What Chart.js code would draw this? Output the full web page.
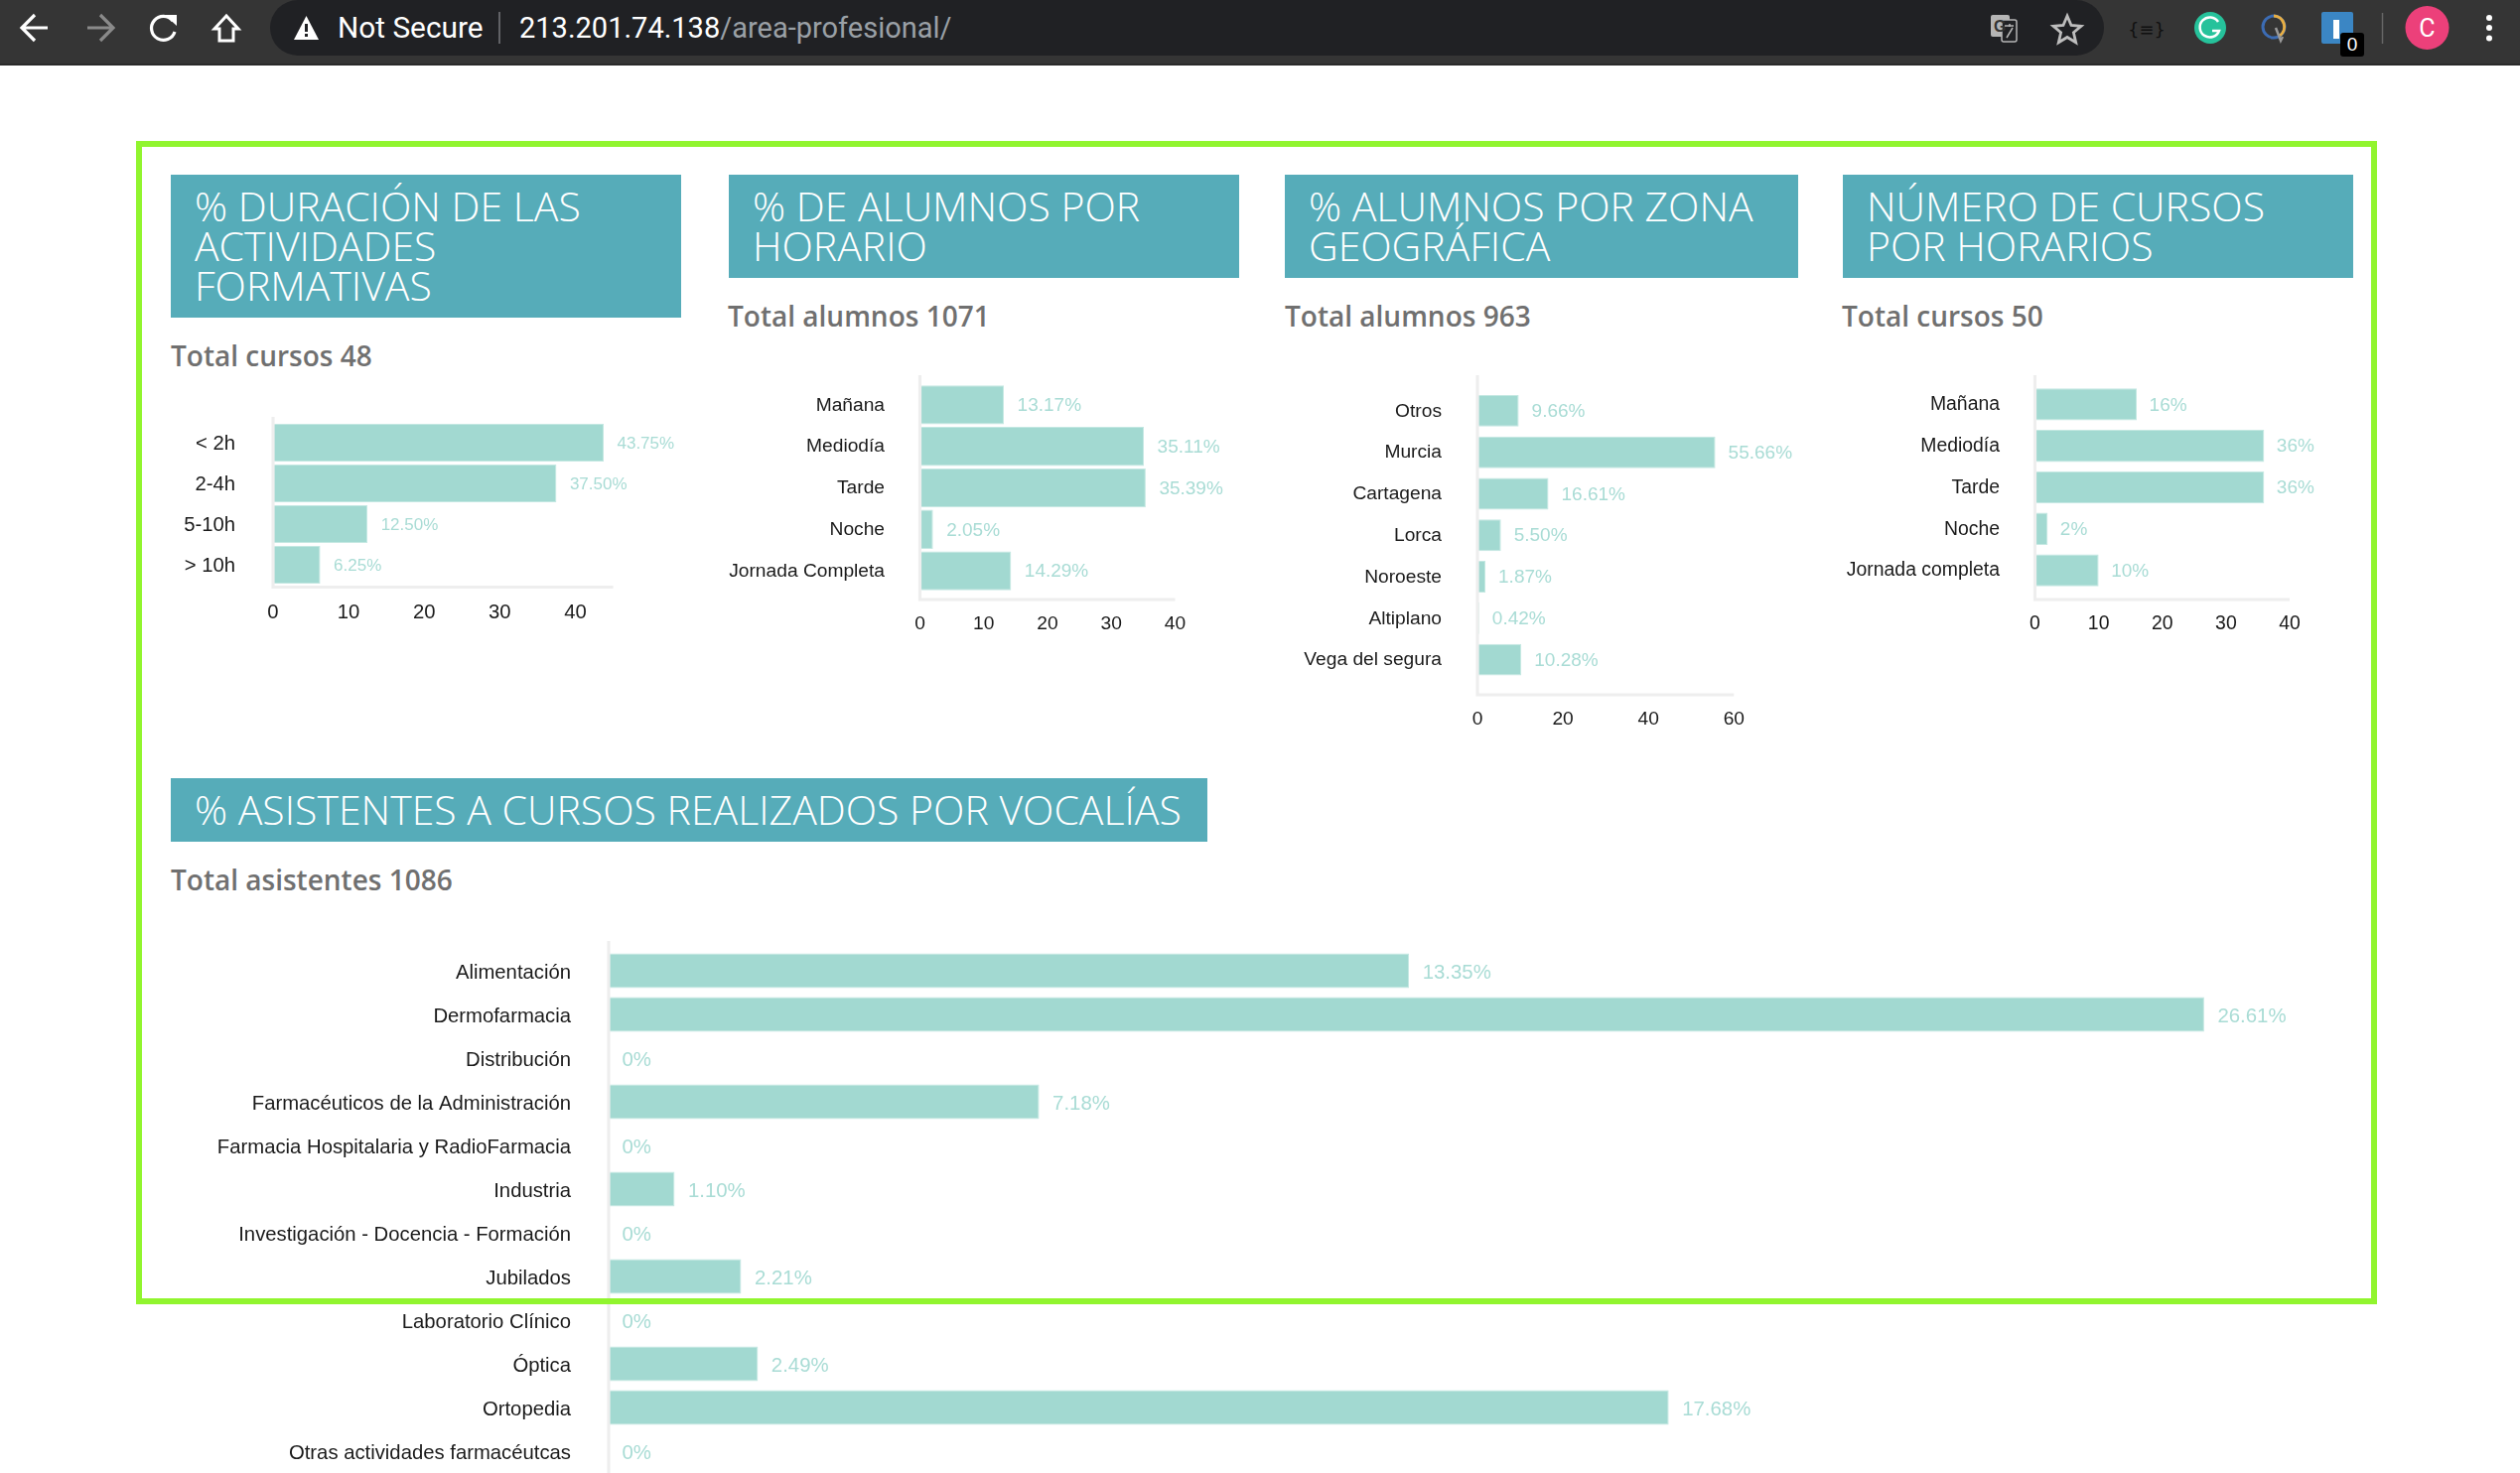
<!DOCTYPE html>
<html lang="es"><head><meta charset="utf-8">
<title>Área profesional</title>
<script src="https://cdn.jsdelivr.net/npm/chart.js@4/dist/chart.umd.min.js"></script>
<style>
html,body{margin:0;padding:0;width:2538px;height:1484px;overflow:hidden;background:#fff}
.abs{position:absolute}
#bar{left:0;top:0;width:2538px;height:64px;background:#353535;border-bottom:2px solid #2a2a2a}
#omni{left:272px;top:0;width:1847px;height:56px;background:#202124;border-radius:28px}
.url{font:29px Roboto,sans-serif;top:11px;line-height:34px;white-space:nowrap}
#frame{left:137px;top:142px;width:2245px;height:1160px;border:6px solid #91f52e;z-index:5;pointer-events:none}
.panel{background:#56acb9;color:#fff;font:300 41px/40px "Open Sans",sans-serif;box-sizing:border-box;padding:11px 10px 0 24px;top:176px}
.total{font:600 28px/36px "Open Sans",sans-serif;color:#707070;white-space:nowrap}
canvas{position:absolute;display:block}
</style></head><body>
<div class="abs" id="bar"></div><div class="abs" id="omni"></div>
<svg class="abs" style="left:0;top:0" width="2538" height="64" fill="none">
 <g stroke="#fff" stroke-width="3.2"><path d="M48 28H24M35 15 22 28l13 13"/></g>
 <g stroke="#8a8a8a" stroke-width="3.2"><path d="M88 28h24M101 15l13 13-13 13"/></g>
 <path d="M174 21a12 12 0 1 0 2 11" stroke="#fff" stroke-width="3.2"/><path d="M166 15h12v11z" fill="#fff"/>
 <path d="M228 16 216 29h5v12h14V29h5z" stroke="#fff" stroke-width="3"/>
 <path d="M308.500 16 296 40h25z" fill="#fff"/><path d="M307 24h3v8h-3zM307 34h3v3h-3z" fill="#202124"/>
 <path d="M503 12v32" stroke="#77797c" stroke-width="1.500"/>
 <rect x="2005" y="15" width="19" height="22" rx="2" fill="#b5b5b5"/><rect x="2016" y="20" width="15" height="22" rx="2" stroke="#b5b5b5" stroke-width="1.500" fill="#202124"/>
 <text x="2008" y="32" font-family="Liberation Sans" font-weight="700" font-size="16" fill="#333">G</text>
 <path d="M2019 26h9M2024 24v3M2021 38l6-10" stroke="#b5b5b5" stroke-width="1.500"/>
 <path d="M2082 16l4 9.500 10 .8-7.600 6.500 2.300 10-8.700-5.300-8.700 5.300 2.300-10-7.600-6.500 10-.8z" stroke="#bdbdbd" stroke-width="2.800"/>
 <text x="2162" y="36" text-anchor="middle" font-family="DejaVu Sans" font-size="18" fill="#111">{≡}</text>
 <circle cx="2226" cy="28" r="16" fill="#26c29b"/><path d="M2234 22a10 10 0 1 0 1 9h-7" stroke="#fff" stroke-width="2.500"/>
 <circle cx="2290" cy="27" r="11" stroke="#3c6cb4" stroke-width="3"/><path d="M2290 16a11 11 0 0 1 6 20" stroke="#e8ae43" stroke-width="3"/>
 <path d="M2292 28l5 13 2-4" stroke="#9a9a9a" stroke-width="2.500"/>
 <rect x="2338" y="12" width="32" height="32" rx="2" fill="#3b86c4"/><path d="M2350 20h6v19h-6z" fill="#fff"/>
 <rect x="2357" y="33" width="24" height="24" rx="3" fill="#000"/><text x="2369" y="51" text-anchor="middle" font-family="Liberation Sans" font-size="19" fill="#fff">0</text>
 <path d="M2399.500 13v31" stroke="#666" stroke-width="1.500"/>
 <circle cx="2444.500" cy="28" r="22" fill="#ec407a"/><text x="2444.500" y="37" text-anchor="middle" font-family="Roboto" font-size="25" fill="#fff">C</text>
 <circle cx="2507" cy="18" r="3" fill="#fff"/><circle cx="2507" cy="28" r="3" fill="#fff"/><circle cx="2507" cy="38.500" r="3" fill="#fff"/>
</svg>
<div class="abs url" style="left:340px;color:#fff;font-size:29.8px">Not Secure</div>
<div class="abs url" style="left:523px;color:#fff">213.201.74.138<span style="color:#9aa0a6">/area-profesional/</span></div>

<div class="abs" id="frame"></div>

<div class="abs panel" style="left:172px;width:514px;height:144px">% DURACIÓN DE LAS ACTIVIDADES FORMATIVAS</div>
<div class="abs panel" style="left:734px;width:514px;height:104px">% DE ALUMNOS POR HORARIO</div>
<div class="abs panel" style="left:1294px;width:517px;height:104px">% ALUMNOS POR ZONA GEOGRÁFICA</div>
<div class="abs panel" style="left:1856px;width:514px;height:104px">NÚMERO DE CURSOS POR HORARIOS</div>
<div class="abs panel" style="left:172px;top:784px;width:1044px;height:64px;white-space:nowrap">% ASISTENTES A CURSOS REALIZADOS POR VOCALÍAS</div>

<div class="abs total" style="left:172px;top:340px">Total cursos 48</div>
<div class="abs total" style="left:733px;top:300px">Total alumnos 1071</div>
<div class="abs total" style="left:1294px;top:300px">Total alumnos 963</div>
<div class="abs total" style="left:1855px;top:300px">Total cursos 50</div>
<div class="abs total" style="left:172px;top:868px">Total asistentes 1086</div>

<canvas id="c1"></canvas><canvas id="c2"></canvas><canvas id="c3"></canvas><canvas id="c4"></canvas><canvas id="c5"></canvas>

<script>
// ---- data ----
const duracionLabels = ["< 2h","2-4h","5-10h","> 10h"];
const duracionValues = [43.75,37.5,12.5,6.25];

const horarioLabels = ["Mañana","Mediodía","Tarde","Noche","Jornada Completa"];
const horarioValues = [13.17,35.11,35.39,2.05,14.29];

const zonaLabels = ["Otros","Murcia","Cartagena","Lorca","Noroeste","Altiplano","Vega del segura"];
const zonaValues = [9.66,55.66,16.61,5.5,1.87,0.42,10.28];

const cursosLabels = ["Mañana","Mediodía","Tarde","Noche","Jornada completa"];
const cursosValues = [16,36,36,2,10];

const vocaliaLabels = ["Alimentación","Dermofarmacia","Distribución","Farmacéuticos de la Administración","Farmacia Hospitalaria y RadioFarmacia","Industria","Investigación - Docencia - Formación","Jubilados","Laboratorio Clínico","Óptica","Ortopedia","Otras actividades farmacéutcas"];
const vocaliaValues = [13.35,26.61,0,7.18,0,1.10,0,2.21,0,2.49,17.68,0];

// ---- layout of each chart, in page pixels ----
const layouts = [
 {id:"c1",labels:duracionLabels,values:duracionValues,canvasLeft:172,canvasRight:690,zero:275,plotRight:617.5,max:45,step:10,
  slotTop:425.5,slotBottom:589.5,axisTop:420,axisY:591.5,labelRight:237,tickY:615,bar:38,tickShift:1.5,tickSize:20.3,labelSize:17,labelShift:1,labelGap:13.5},
 {id:"c2",labels:horarioLabels,values:horarioValues,canvasLeft:725,canvasRight:1252,zero:926.5,plotRight:1183.5,max:40,step:10,
  slotTop:386.5,slotBottom:596,axisTop:377.5,axisY:603.5,labelRight:891,tickY:627,bar:39.5,tickShift:0.5,tickSize:19.2,labelSize:19,labelShift:1,labelGap:13.5},
 {id:"c3",labels:zonaLabels,values:zonaValues,canvasLeft:1290,canvasRight:1815,zero:1488,plotRight:1746.3,max:60,step:20,
  slotTop:392.5,slotBottom:685.5,axisTop:377.5,axisY:699.5,labelRight:1452,tickY:723,bar:32,tickShift:0.5,tickSize:19.2,labelSize:19,labelShift:1,labelGap:13},
 {id:"c4",labels:cursosLabels,values:cursosValues,canvasLeft:1853,canvasRight:2376,zero:2049.5,plotRight:2306,max:40,step:10,
  slotTop:386,slotBottom:595.5,axisTop:377.5,axisY:603.5,labelRight:2014,tickY:627,bar:32.5,tickShift:0.5,tickSize:19.4,labelSize:19,labelShift:1,labelGap:12.5},
 {id:"c5",labels:vocaliaLabels,values:vocaliaValues,canvasLeft:172,canvasRight:2380,zero:613,plotRight:2325,max:28.35,step:10,
  slotTop:956,slotBottom:1485.2,axisTop:948,axisY:null,labelRight:575,tickY:null,bar:35,tickShift:2,tickSize:20.3,labelSize:20.4,labelShift:2.5,labelGap:13.5}
];

const BAR = "#a2d9d1", BAR_EDGE = "#c4e8e2", AXIS = "#eeeeee", LABEL = "#a9dcd5";
const TICK_FAMILY = "'Liberation Sans',Arial,sans-serif";
const fmt = v => (Number.isInteger(v) ? v : v.toFixed(2)) + "%";

function axisPlugin(L, cTop){
 return {id:"axes",afterDatasetsDraw(chart){
  const ctx=chart.ctx,x0=chart.scales.x.getPixelForValue(0),right=chart.scales.x.getPixelForValue(L.max);
  ctx.save();
  ctx.strokeStyle=AXIS;ctx.lineWidth=3.2;ctx.beginPath();
  ctx.moveTo(x0,L.axisTop-cTop);
  ctx.lineTo(x0,L.axisY===null?chart.height:L.axisY-cTop+1.6);
  if(L.axisY!==null){ctx.moveTo(x0,L.axisY-cTop);ctx.lineTo(right,L.axisY-cTop);}
  ctx.stroke();
  ctx.fillStyle=LABEL;ctx.font=L.labelSize+"px "+TICK_FAMILY;ctx.textAlign="left";ctx.textBaseline="middle";
  chart.getDatasetMeta(0).data.forEach((b,i)=>ctx.fillText(fmt(L.values[i]),b.x+L.labelGap,b.y+L.labelShift));
  ctx.restore();
 }};
}

layouts.forEach(L=>{
 const cv=document.getElementById(L.id);
 const cTop=L.axisTop-4;
 const cBottom=L.tickY===null?1484:L.tickY+20;
 const w=L.canvasRight-L.canvasLeft,h=cBottom-cTop;
 cv.width=w;cv.height=h;cv.style.left=L.canvasLeft+"px";cv.style.top=cTop+"px";cv.style.width=w+"px";cv.style.height=h+"px";
 const slot=(L.slotBottom-L.slotTop)/L.labels.length;
 const font={family:TICK_FAMILY,size:L.tickSize};
 new Chart(cv,{
  type:"bar",
  data:{labels:L.labels,datasets:[{data:L.values,backgroundColor:BAR,borderColor:BAR_EDGE,borderWidth:1,
    categoryPercentage:1,barPercentage:L.bar/slot}]},
  options:{indexAxis:"y",responsive:false,animation:false,devicePixelRatio:1,
   layout:{padding:{top:L.slotTop-cTop,right:L.canvasRight-L.plotRight,bottom:L.tickY===null?Math.max(0,cBottom-L.slotBottom):0,left:0}},
   plugins:{legend:{display:false},tooltip:{enabled:false},title:{display:false}},
   scales:{
    x:{display:L.tickY!==null,type:"linear",min:0,max:L.max,
       grid:{display:false,drawTicks:false},border:{display:false},
       ticks:{stepSize:L.step,includeBounds:false,autoSkip:false,maxRotation:0,color:"#1a1a1a",font,
              padding:L.tickY===null?0:(L.tickY-L.slotBottom-10)},
       afterFit(s){s.paddingLeft=0;s.paddingRight=0;if(L.tickY!==null)s.height=cBottom-L.slotBottom;}},
    y:{type:"category",offset:true,grid:{display:false,drawTicks:false},border:{display:false},
       ticks:{autoSkip:false,color:"#1a1a1a",font,padding:L.zero-L.labelRight,crossAlign:"near",labelOffset:L.tickShift},
       afterFit(s){s.paddingTop=0;s.paddingBottom=0;s.width=L.zero-L.canvasLeft;}}
   }},
  plugins:[axisPlugin(L,cTop)]
 });
});
</script>
</body></html>
